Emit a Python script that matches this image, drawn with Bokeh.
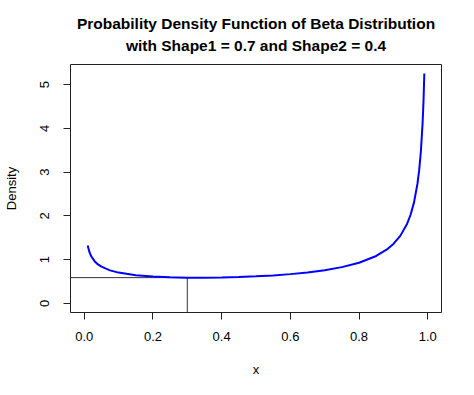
from bokeh.plotting import figure
from bokeh.models import Range1d, FixedTicker, Title, LinearAxis
from bokeh.embed import file_html
from bokeh.resources import INLINE

# Beta(0.7, 0.4) density
x_vals = [0.01, 0.015, 0.02, 0.03, 0.04, 0.05, 0.075, 0.1, 0.15, 0.2, 0.25, 0.3,
          0.35, 0.4, 0.45, 0.5, 0.55, 0.6, 0.65, 0.7, 0.75, 0.8, 0.85, 0.88,
          0.9, 0.92, 0.94, 0.95, 0.96, 0.97, 0.975, 0.98, 0.985, 0.9875, 0.99]
density = [1.3234, 1.1754, 1.0815, 0.9635, 0.8894, 0.8370, 0.7531, 0.7022, 0.6435,
           0.6122, 0.5952, 0.5873, 0.5863, 0.5910, 0.6010, 0.6166, 0.6383, 0.6674,
           0.7059, 0.7573, 0.8275, 0.9279, 1.0829, 1.2253, 1.3577, 1.5419, 1.8208,
           2.0248, 2.3075, 2.7336, 3.0450, 3.4759, 4.1246, 4.598, 5.2525]

q_x = 0.3
q_density = 0.5873

x_ticks = [0.0, 0.2, 0.4, 0.6, 0.8, 1.0]
x_tick_labels = ["0.0", "0.2", "0.4", "0.6", "0.8", "1.0"]
y_ticks = [0, 1, 2, 3, 4, 5]

title_lines = ["Probability Density Function of Beta Distribution",
               "with Shape1 = 0.7 and Shape2 = 0.4"]

FONT = "Liberation Sans"

x_lo, x_hi = -0.04, 1.04
y_lo, y_hi = -0.21, 5.46

p = figure(width=458, height=379, output_backend="svg", toolbar_location=None,
           x_range=Range1d(x_lo, x_hi), y_range=Range1d(y_lo, y_hi),
           min_border_left=64, min_border_right=17, min_border_top=64,
           min_border_bottom=65, title=None)
p.background_fill_color = "white"
p.border_fill_color = "white"
p.outline_line_color = "#222222"
p.outline_line_width = 1
p.xgrid.visible = False
p.ygrid.visible = False

for ax in (p.xaxis[0], p.yaxis[0]):
    ax.axis_line_color = None
    ax.major_tick_line_color = "#222222"
    ax.major_tick_in = 0
    ax.major_tick_out = 7
    ax.minor_tick_line_color = None
    ax.major_label_text_font = FONT
    ax.major_label_text_font_size = "13px"
    ax.major_label_text_color = "black"
    ax.axis_label_text_font = FONT
    ax.axis_label_text_font_size = "13px"
    ax.axis_label_text_font_style = "normal"
    ax.axis_label_text_color = "black"

p.xaxis[0].ticker = FixedTicker(ticks=x_ticks)
p.xaxis[0].major_label_overrides = {t: s for t, s in zip(x_ticks, x_tick_labels)}
p.xaxis[0].major_label_standoff = 12
p.xaxis[0].axis_label = "x"
p.xaxis[0].axis_label_standoff = 18

p.yaxis[0].ticker = FixedTicker(ticks=y_ticks)
p.yaxis[0].major_label_orientation = "vertical"
p.yaxis[0].major_label_standoff = 14
p.yaxis[0].axis_label = "Density"
p.yaxis[0].axis_label_standoff = 19

# quantile marker lines
p.segment(x0=[x_lo - 1], y0=[q_density], x1=[q_x], y1=[q_density],
          line_color="#333333", line_width=1)
p.segment(x0=[q_x], y0=[y_lo - 1], x1=[q_x], y1=[q_density],
          line_color="#333333", line_width=1)

p.line(x_vals, density, line_color="#0000ff", line_width=2)

# invisible spacer axis between frame and title
spacer = LinearAxis(ticker=FixedTicker(ticks=[0.5]), axis_line_color=None,
                    major_tick_line_color=None, minor_tick_line_color=None,
                    major_tick_in=0, major_tick_out=8, major_label_standoff=0,
                    major_label_overrides={0.5: ""},
                    major_label_text_font_size="1px")
p.add_layout(spacer, "above")

# title lines: second line sits closest to the frame
for txt, stand in ((title_lines[1], 6), (title_lines[0], 0)):
    p.add_layout(Title(text=txt, align="center", text_font=FONT,
                       text_font_size="15.5px", text_font_style="bold",
                       text_color="black", standoff=stand, offset=0), "above")

open("out.html", "w").write(file_html(p, INLINE))
